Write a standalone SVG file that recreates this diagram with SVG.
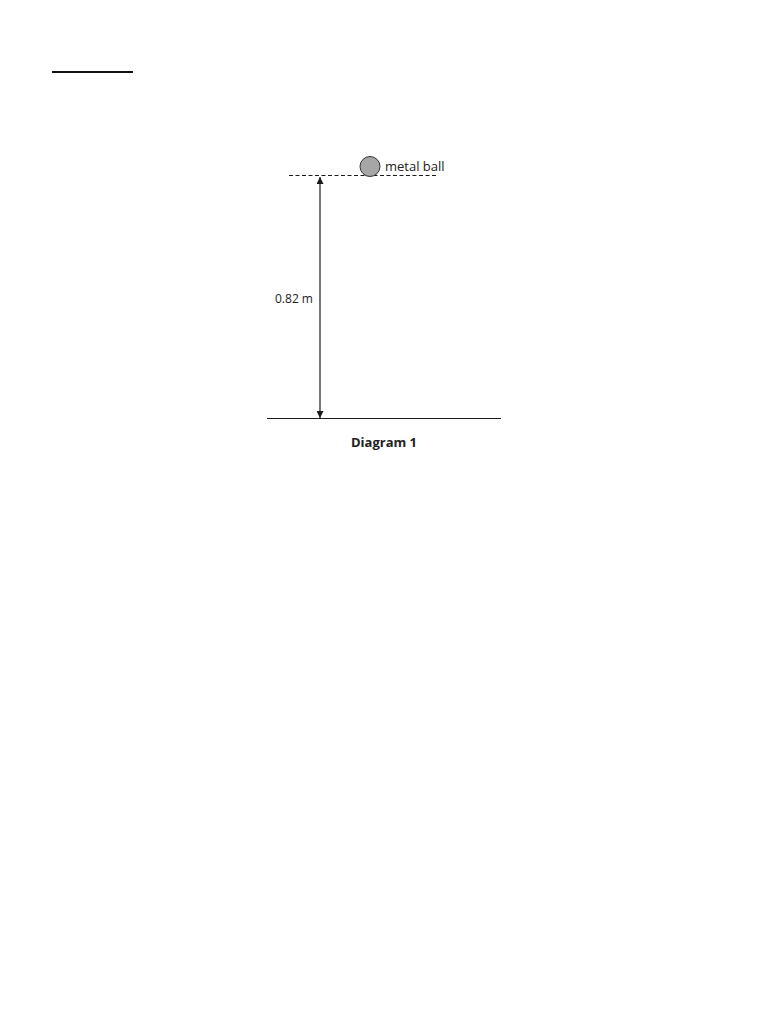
<svg xmlns="http://www.w3.org/2000/svg" width="768" height="1024" viewBox="0 0 768 1024">
<style>
.ln{stroke:#1a1a1a;stroke-width:1.2;fill:none}
.t{font-family:"Open Sans","Liberation Sans",sans-serif;fill:#222}
</style>
<defs>
<marker id="ah" viewBox="0 0 10 10" refX="10" refY="5" markerWidth="7" markerHeight="7" orient="auto-start-reverse" markerUnits="userSpaceOnUse">
<path d="M0,0 L10,5 L0,10 Z" fill="#1a1a1a"/>
</marker>
</defs>
<rect width="768" height="1024" fill="#fff"/>
<line x1="52" y1="72" x2="133" y2="72" stroke="#111" stroke-width="2"/>
<g id="ground"><line class="ln" x1="267" y1="418.5" x2="501" y2="418.5"/></g>
<g id="start-level"><line class="ln" x1="289" y1="175.5" x2="436" y2="175.5" stroke-dasharray="4,2.5" stroke-width="1"/></g>
<g id="ball">
<circle cx="370" cy="166.5" r="10" fill="#a6a6a6" stroke="#333" stroke-width="1"/>
<text class="t" x="385" y="171" font-size="13">metal ball</text>
</g>
<g id="connectors">
<line class="ln" x1="320" y1="177" x2="320" y2="418" stroke-width="1" marker-start="url(#ah)" marker-end="url(#ah)"/>
</g>
<g id="height-label"><text class="t" x="275" y="303" font-size="12">0.82 m</text></g>
<g id="caption"><text class="t" x="384" y="447" font-size="13" font-weight="bold" text-anchor="middle">Diagram 1</text></g>
</svg>
